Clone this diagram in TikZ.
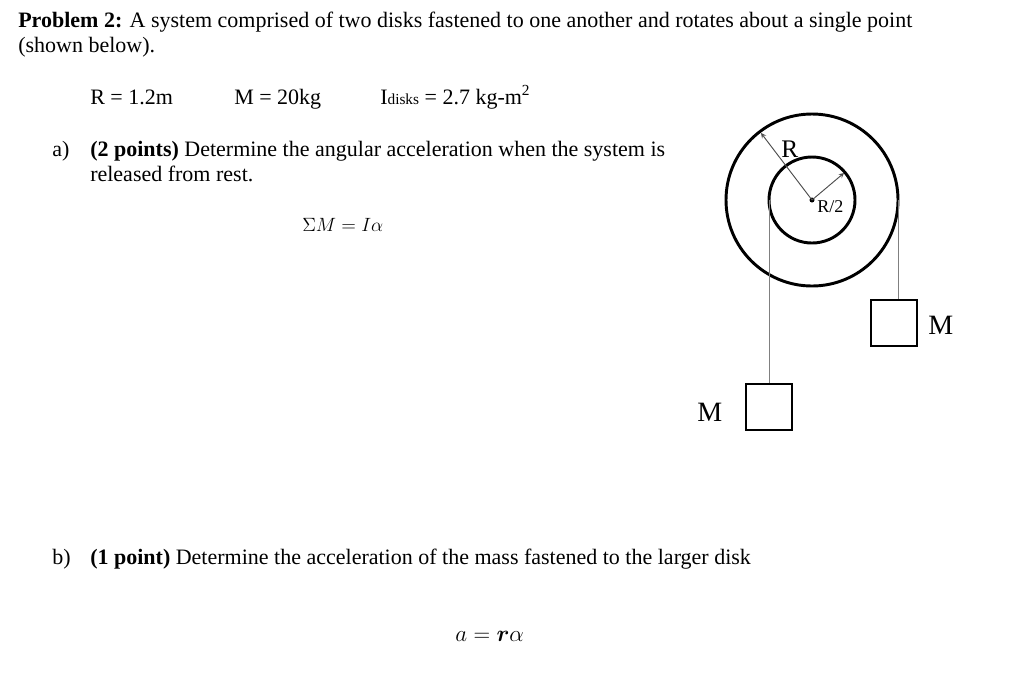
\documentclass[tikz,border=0pt]{standalone}
\usepackage{amsmath}
\usepackage{fontspec}
\setmainfont{Liberation Serif}
\begin{document}
\begin{tikzpicture}[x=0.75pt,y=-0.75pt,
  txt/.style={anchor=base west,inner sep=0pt,font=\fontsize{16.5}{20}\selectfont},
  box/.style={draw,line width=1.6pt,minimum width=34pt,minimum height=34pt,inner sep=0pt},
  rope/.style={draw=gray,line width=0.7pt},
  disk/.style={draw,line width=2.2pt,circle,inner sep=0pt}]
\useasboundingbox (0,0) rectangle (1024,687);
\node[txt] (t1) at (18,27) {\textbf{Problem 2:} A system comprised of two disks fastened to one another and rotates about a single point};
\node[txt] (t2) at (18,52) {(shown below).};
\node[txt] (g1) at (90,104) {R = 1.2m};
\node[txt] (g2) at (234,104) {M = 20kg};
\node[txt] (g3) at (380,104) {I{\fontsize{11.5}{13}\selectfont disks} = 2.7 kg-m\textsuperscript{2}};
\node[txt] (a1) at (52,156) {a)};
\node[txt] (a2) at (90,156) {\textbf{(2 points)} Determine the angular acceleration when the system is};
\node[txt] (a3) at (90,181) {released from rest.};
\node[txt,font=\fontsize{14}{17}\selectfont] (e1) at (302,231) {$\Sigma M = I\alpha$};
\node[txt] (b1) at (52,564) {b)};
\node[txt] (b2) at (90,564) {\textbf{(1 point)} Determine the acceleration of the mass fastened to the larger disk};
\node[txt,font=\fontsize{16}{19}\selectfont] (e2) at (455,641) {$a = \boldsymbol{r}\alpha$};
% disks
\coordinate (c) at (812,200);
\node[disk,minimum size=129pt] (outer) at (c) {};
\node[disk,minimum size=64.5pt] (inner) at (c) {};
\fill (c) circle (2.5);
\draw[-stealth,line width=0.7pt,gray!60!black] (c) -- (761,133);
\draw[-stealth,line width=0.7pt,gray!60!black] (c) -- (844,173);
\node[txt,font=\fontsize{19}{22}\selectfont] (lR) at (781,157) {R};
\node[txt,font=\fontsize{13.5}{16}\selectfont] (lR2) at (817,212) {R/2};
% masses
\node[box] (m1) at (894,323) {};
\node[box] (m2) at (769,407) {};
\coordinate (o1) at (898,200);
\coordinate (o2) at (769,200);
\draw[rope] (o1) -- (o1 |- m1.north);
\draw[rope] (o2) -- (m2.north);
\node[txt,font=\fontsize{21}{24}\selectfont] (lm1) at (928,334) {M};
\node[txt,font=\fontsize{21}{24}\selectfont] (lm2) at (697,421) {M};
\end{tikzpicture}
\end{document}
